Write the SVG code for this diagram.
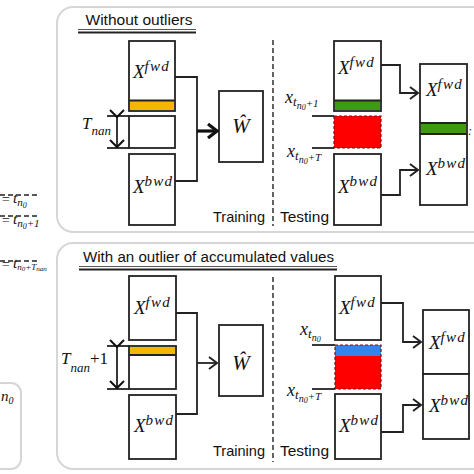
<svg xmlns="http://www.w3.org/2000/svg" width="474" height="474" viewBox="0 0 474 474">
<defs>
<style>
.panel{fill:#fff;stroke:#d6d6d6;stroke-width:2}
.box{fill:#fff;stroke:#222;stroke-width:1.8}
.ln{fill:none;stroke:#222;stroke-width:1.8}
.dash{fill:none;stroke:#222;stroke-width:1.4;stroke-dasharray:5,3}
.ttl{font-family:"Liberation Sans",Arial,sans-serif;font-size:15.5px;fill:#111}
.lbl{font-family:"Liberation Sans",Arial,sans-serif;font-size:15px;fill:#111}
.mx{font-family:"Liberation Serif","Times New Roman",serif;font-style:italic;font-size:19px;fill:#111}
.sup{font-size:15px;letter-spacing:1.2px}
.m2{font-family:"Liberation Serif","Times New Roman",serif;font-style:italic;fill:#111}
.orange{fill:#f7b500}
.green{fill:#3f9a12}
.red{fill:#ff0000}
.blue{fill:#3484ee}
</style>
<marker id="ah" viewBox="-10 -7 12 14" markerWidth="12" markerHeight="14" refX="0" refY="0" orient="auto" markerUnits="userSpaceOnUse">
<path d="M-8,-6 L0,0 L-8,6" fill="none" stroke="#222" stroke-width="2"/>
</marker>
<marker id="ahb" viewBox="-12 -8 14 16" markerWidth="14" markerHeight="16" refX="0" refY="0" orient="auto" markerUnits="userSpaceOnUse">
<path d="M-9,-7 L0,0 L-9,7" fill="none" stroke="#111" stroke-width="3.2"/>
</marker>
<marker id="dh" viewBox="-10 -8 12 16" markerWidth="12" markerHeight="16" refX="0" refY="0" orient="auto" markerUnits="userSpaceOnUse">
<path d="M-7,-7 L0,0 L-7,7" fill="none" stroke="#111" stroke-width="2"/>
</marker>
</defs>

<!-- left partial labels -->
<g id="left-labels">
<line class="dash" x1="0" y1="195" x2="40" y2="195"/>
<text class="m2" x="1" y="204" font-size="14" font-style="normal">=</text>
<text class="m2" x="13" y="203" font-size="15">t<tspan font-size="11" dy="3">n</tspan><tspan font-size="8" dy="2">0</tspan></text>
<line class="dash" x1="0" y1="216" x2="40" y2="216"/>
<text class="m2" x="1" y="225" font-size="14" font-style="normal">=</text>
<text class="m2" x="13" y="224" font-size="15">t<tspan font-size="11" dy="3">n</tspan><tspan font-size="8" dy="2">0</tspan><tspan font-size="11" dy="-2">+1</tspan></text>
<line class="dash" x1="0" y1="261" x2="40" y2="261"/>
<text class="m2" x="1" y="269" font-size="14" font-style="normal">=</text>
<text class="m2" x="13" y="268" font-size="15">t<tspan font-size="9" dy="2">n</tspan><tspan font-size="7" dy="1">0</tspan><tspan font-size="9" dy="-1">+T</tspan><tspan font-size="7" dy="1">nan</tspan></text>
</g>
<g id="left-panel">
<rect class="panel" x="-30" y="383" width="51" height="86" rx="10"/>
<text class="m2" x="1" y="401" font-size="15">n<tspan font-size="10" dy="3">0</tspan></text>
</g>

<!-- panels -->
<rect class="panel" x="57" y="7" width="440" height="225" rx="16"/>
<rect class="panel" x="57" y="243" width="440" height="226" rx="16"/>

<!-- ===== TOP PANEL ===== -->
<g id="title-top">
<text class="ttl" x="139" y="25" text-anchor="middle" textLength="107" lengthAdjust="spacingAndGlyphs">Without outliers</text>
<line x1="78" y1="29.5" x2="196" y2="29.5" stroke="#555" stroke-width="1"/>
<line x1="78" y1="32.5" x2="196" y2="32.5" stroke="#222" stroke-width="1.8"/>
</g>

<g id="top-train-fwd">
<rect class="box" x="129" y="41" width="46" height="70"/>
<rect class="orange" x="130" y="101" width="44" height="9"/>
<line class="ln" x1="129" y1="100.5" x2="175" y2="100.5"/>
<text class="mx" x="133" y="78">X<tspan class="sup" dy="-7">fwd</tspan></text>
</g>
<g id="top-train-nan">
<rect class="box" x="129" y="116" width="46" height="32"/>
</g>
<g id="top-train-bwd">
<rect class="box" x="129" y="154" width="46" height="71"/>
<text class="mx" x="133" y="193">X<tspan class="sup" dy="-7">bwd</tspan></text>
</g>
<g id="top-tnan">
<line class="ln" x1="107" y1="116" x2="129" y2="116"/>
<line class="ln" x1="107" y1="148" x2="129" y2="148"/>
<text class="m2" x="82" y="129" font-size="17">T<tspan font-size="13" dy="6">nan</tspan></text>
</g>
<g id="top-W">
<rect class="box" x="219" y="91" width="44" height="71"/>
<text class="m2" x="241" y="133" font-size="21" text-anchor="middle">Ŵ</text>
</g>
<text class="lbl" x="213" y="222" textLength="52" lengthAdjust="spacingAndGlyphs">Training</text>
<line class="dash" x1="273" y1="40" x2="273" y2="226"/>
<text class="lbl" x="280" y="222" textLength="49" lengthAdjust="spacingAndGlyphs">Testing</text>

<g id="top-test-fwd">
<rect class="box" x="334" y="41" width="47" height="70"/>
<rect class="green" x="335" y="101" width="45" height="9"/>
<line class="ln" x1="334" y1="100.5" x2="381" y2="100.5"/>
<text class="mx" x="338" y="74">X<tspan class="sup" dy="-7">fwd</tspan></text>
</g>
<g id="top-test-red">
<rect class="red" x="334" y="116" width="47" height="32" stroke="#7a1010" stroke-width="1.2" stroke-dasharray="3,2"/>
</g>
<g id="top-test-bwd">
<rect class="box" x="334" y="154" width="47" height="71"/>
<text class="mx" x="338" y="193">X<tspan class="sup" dy="-7">bwd</tspan></text>
</g>
<g id="top-test-labels">
<text class="m2" x="285" y="103" font-size="18">x<tspan font-size="13" dy="3">t</tspan><tspan font-size="10" dy="3">n</tspan><tspan font-size="8" dy="1">0</tspan><tspan font-size="11" dy="-3">+1</tspan></text>
<text class="m2" x="287" y="157" font-size="18">x<tspan font-size="13" dy="3">t</tspan><tspan font-size="10" dy="3">n</tspan><tspan font-size="8" dy="1">0</tspan><tspan font-size="11" dy="-3">+T</tspan></text>
</g>
<g id="top-result">
<rect class="box" x="420" y="64" width="47" height="141"/>
<rect class="green" x="421" y="123" width="45" height="11"/>
<line class="ln" x1="420" y1="123" x2="467" y2="123"/>
<line class="ln" x1="420" y1="134" x2="467" y2="134"/>
<text class="mx" x="426" y="96">X<tspan class="sup" dy="-7">fwd</tspan></text>
<text class="mx" x="426" y="175">X<tspan class="sup" dy="-7">bwd</tspan></text>
<text class="m2" x="468" y="135" font-size="12" font-style="normal">:</text>
</g>

<!-- ===== BOTTOM PANEL ===== -->
<g id="title-bottom">
<text class="ttl" x="83" y="262" textLength="251" lengthAdjust="spacingAndGlyphs">With an outlier of accumulated values</text>
<line x1="79" y1="266.5" x2="337" y2="266.5" stroke="#555" stroke-width="1"/>
<line x1="79" y1="269.5" x2="337" y2="269.5" stroke="#222" stroke-width="1.8"/>
</g>

<g id="bot-train-fwd">
<rect class="box" x="129" y="276" width="47" height="64"/>
<text class="mx" x="134" y="314">X<tspan class="sup" dy="-7">fwd</tspan></text>
</g>
<g id="bot-train-nan">
<rect class="box" x="129" y="346" width="47" height="43"/>
<rect class="orange" x="130" y="347" width="45" height="8"/>
<line class="ln" x1="129" y1="355" x2="176" y2="355"/>
</g>
<g id="bot-train-bwd">
<rect class="box" x="129" y="395" width="47" height="64"/>
<text class="mx" x="134" y="432">X<tspan class="sup" dy="-7">bwd</tspan></text>
</g>
<g id="bot-tnan">
<line class="ln" x1="107" y1="346" x2="129" y2="346"/>
<line class="ln" x1="107" y1="389" x2="129" y2="389"/>
<text class="m2" x="61" y="364" font-size="17">T<tspan font-size="13" dy="8">nan</tspan><tspan font-size="17" dy="-8" font-style="normal">+1</tspan></text>
</g>
<g id="bot-W">
<rect class="box" x="219" y="325" width="44" height="71"/>
<text class="m2" x="241" y="370" font-size="21" text-anchor="middle">Ŵ</text>
</g>
<text class="lbl" x="213" y="456" textLength="52" lengthAdjust="spacingAndGlyphs">Training</text>
<line class="dash" x1="273" y1="277" x2="273" y2="462"/>
<text class="lbl" x="280" y="456" textLength="49" lengthAdjust="spacingAndGlyphs">Testing</text>

<g id="bot-test-fwd">
<rect class="box" x="335" y="276" width="46" height="64"/>
<text class="mx" x="339" y="314">X<tspan class="sup" dy="-7">fwd</tspan></text>
</g>
<g id="bot-test-outlier">
<rect class="red" x="335" y="345" width="46" height="44"/>
<rect class="blue" x="335" y="345" width="46" height="11"/>
<rect x="335" y="345" width="46" height="44" fill="none" stroke="#7a1010" stroke-width="1.2" stroke-dasharray="3,2"/>
</g>
<g id="bot-test-bwd">
<rect class="box" x="335" y="394" width="46" height="65"/>
<text class="mx" x="339" y="432">X<tspan class="sup" dy="-7">bwd</tspan></text>
</g>
<g id="bot-test-labels">
<text class="m2" x="300" y="335" font-size="18">x<tspan font-size="13" dy="3">t</tspan><tspan font-size="10" dy="3">n</tspan><tspan font-size="8" dy="1">0</tspan></text>
<text class="m2" x="287" y="396" font-size="18">x<tspan font-size="13" dy="3">t</tspan><tspan font-size="10" dy="3">n</tspan><tspan font-size="8" dy="1">0</tspan><tspan font-size="11" dy="-3">+T</tspan></text>
</g>
<g id="bot-result-fwd">
<rect class="box" x="423" y="310" width="46" height="64"/>
<text class="mx" x="429" y="349">X<tspan class="sup" dy="-7">fwd</tspan></text>
</g>
<g id="bot-result-bwd">
<rect class="box" x="423" y="374" width="46" height="65"/>
<text class="mx" x="429" y="412">X<tspan class="sup" dy="-7">bwd</tspan></text>
</g>

<!-- connectors -->
<g id="connectors">
<polyline class="ln" points="175,77 197,77 197,181 175,181"/>
<line x1="197" y1="131" x2="217" y2="131" stroke="#111" stroke-width="3.2" marker-end="url(#ahb)"/>
<line class="ln" x1="117" y1="117" x2="117" y2="147" marker-start="url(#dh)" marker-end="url(#dh)"/>
<polyline class="ln" points="381,65 400,65 400,93 418,93" marker-end="url(#ah)"/>
<polyline class="ln" points="381,195 400,195 400,170 418,170" marker-end="url(#ah)"/>
<line class="ln" x1="312" y1="116" x2="334" y2="116"/>
<line class="ln" x1="312" y1="148" x2="334" y2="148"/>

<polyline class="ln" points="176,313 197,313 197,414 176,414"/>
<line class="ln" x1="197" y1="363" x2="217" y2="363" marker-end="url(#ah)"/>
<line class="ln" x1="117" y1="347" x2="117" y2="388" marker-start="url(#dh)" marker-end="url(#dh)"/>
<polyline class="ln" points="381,303 403,303 403,342 421,342" marker-end="url(#ah)"/>
<polyline class="ln" points="381,432 403,432 403,405 421,405" marker-end="url(#ah)"/>
<line class="ln" x1="312" y1="345" x2="335" y2="345"/>
<line class="ln" x1="312" y1="389" x2="335" y2="389"/>
</g>
</svg>
